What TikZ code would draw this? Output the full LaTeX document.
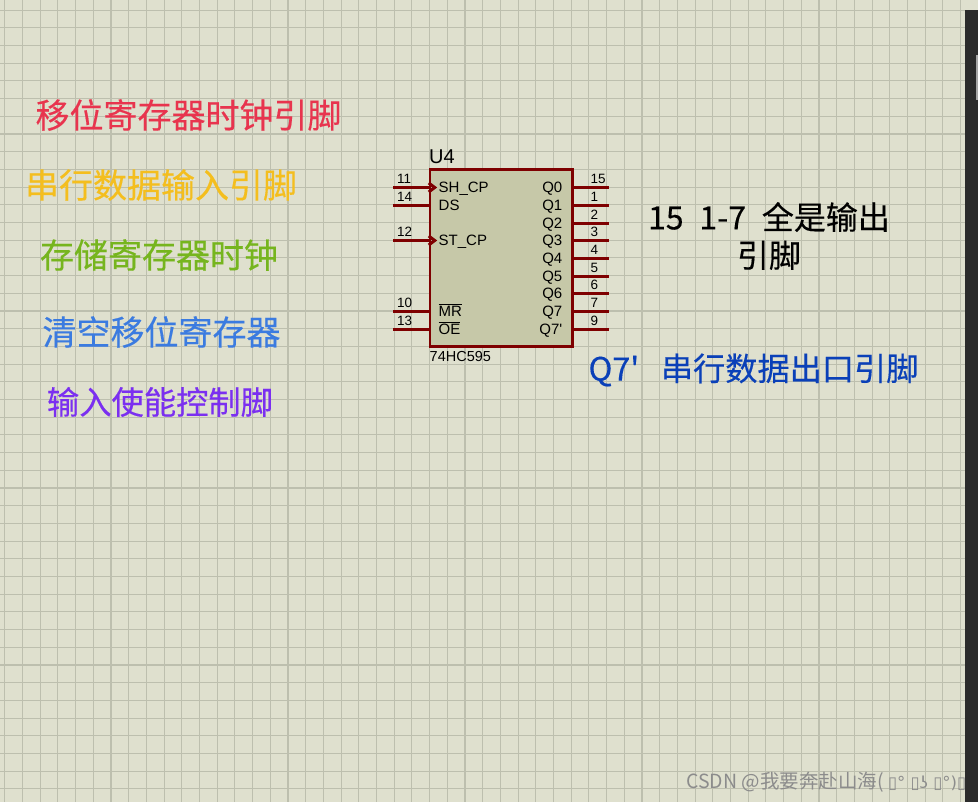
\documentclass[tikz,border=0pt]{standalone}
\usepackage{fontspec}
\setmainfont{Liberation Sans}
\newfontfamily\cjk[FakeBold=0.35]{Noto Sans CJK SC}
\newfontfamily\cjklight{Noto Sans CJK SC}
\newfontfamily\symb{DejaVu Sans}
\definecolor{sheet}{HTML}{DFE0CE}
\definecolor{gridline}{HTML}{BDBFAE}
\definecolor{chipfill}{HTML}{C6C8A8}
\definecolor{chipline}{HTML}{7E0000}
\definecolor{panel}{HTML}{2B2B2B}
\definecolor{shcolor}{HTML}{E8344E}
\definecolor{dscolor}{HTML}{F4BE1E}
\definecolor{stcolor}{HTML}{76B51E}
\definecolor{mrcolor}{HTML}{3B7BE0}
\definecolor{oecolor}{HTML}{7B2FF0}
\definecolor{qscolor}{HTML}{0A40B8}
\newcommand{\barname}[1]{\vbox{\hrule height 1.1pt \kern1.3pt \hbox{#1}}}
\tikzset{
  minorline/.style={draw=gridline,line width=1pt},
  majorline/.style={draw=gridline,line width=1.6pt},
  chip/.style={draw=chipline,fill=chipfill,line width=2.7pt,minimum width=142.3,minimum height=177.4,inner sep=0pt},
  pinline/.style={draw=chipline,line width=3pt},
  pinnum/.style={font=\fontsize{13.5}{13.5}\selectfont,text=black,inner sep=0pt},
  pinname/.style={font=\fontsize{15}{15}\selectfont,text=black,inner sep=0pt},
  note/.style={font=\cjk\fontsize{34}{38}\selectfont,inner sep=0pt,align=center},
  blacknote/.style={font=\cjk\fontsize{32}{38}\selectfont,inner sep=0pt,align=center},
}
\begin{document}
\begin{tikzpicture}[x=1pt,y=-1pt]
\useasboundingbox (0,0) rectangle (978,802);
\fill[sheet] (0,0) rectangle (978,802);
% grid
\foreach \i in {0,...,55}
  \draw[minorline] (4.8+17.7*\i,0) -- (4.8+17.7*\i,802);
\foreach \i in {0,...,45}
  \draw[minorline] (0,10.1+17.7*\i) -- (978,10.1+17.7*\i);
\foreach \x in {111,288,465,642,819}
  \draw[majorline] (\x,0) -- (\x,802);
\foreach \y in {134,311,488,665}
  \draw[majorline] (0,\y) -- (978,\y);
% window edge
\fill[panel] (965,10) rectangle (978,802);
\fill[gray!70] (976,55) rectangle (978,100);
% pins
\node[chip] (ic) at (501.2,258) {};
\foreach \num/\y in {11/187.5,14/205.5,12/240.5,10/311.5,13/329.5}{
  \coordinate (left\num) at (393,\y);
  \draw[pinline] (left\num) -- (ic.west |- left\num);
  \node[pinnum,anchor=base west] (numleft\num) at (397,\y-3.6) {\num};
}
\foreach \num/\y in {15/187.5,1/205.5,2/223.5,3/240.5,4/258.5,5/276.5,6/293.5,7/311.5,9/329.5}{
  \coordinate (right\num) at (609,\y);
  \draw[pinline] (ic.east |- right\num) -- (right\num);
  \node[pinnum,anchor=base west] (numright\num) at (590.5,\y-3.6) {\num};
}
% clock marks
\draw[pinline] (ic.west |- left11) ++(0,-4.5) -- ++(6,4.5) -- ++(-6,4.5);
\draw[pinline] (ic.west |- left12) ++(0,-4.5) -- ++(6,4.5) -- ++(-6,4.5);
% pin names
\foreach \name/\txt/\y in {sh/SH\_CP/187.3,ds/DS/205,st/ST\_CP/240.4,mr/{\barname{MR}}/311.2,oe/{\barname{OE}}/329}
  \node[pinname,anchor=base west] (\name) at (438.5,\y+5.4) {\txt};
\foreach \name/\txt/\y in {q0/Q0/187.3,q1/Q1/205,q2/Q2/223,q3/Q3/240.4,q4/Q4/258,q5/Q5/276,q6/Q6/293,q7/Q7/311.2,qs/Q7\textquotesingle/329}
  \node[pinname,anchor=base east] (\name) at (562.5,\y+5.4) {\txt};
\node[font=\fontsize{20}{20}\selectfont,inner sep=0pt,anchor=base west] (refname) at (429,163.5) {U4};
\node[font=\fontsize{14.5}{14.5}\selectfont,inner sep=0pt,anchor=base west] (partname) at (429.5,361.5) {74HC595};
% notes
\node[note,text=shcolor] (shnote) at (188.5,115) {移位寄存器时钟引脚};
\node[note,text=dscolor] (dsnote) at (161,185) {串行数据输入引脚};
\node[note,text=stcolor] (stnote) at (159,255) {存储寄存器时钟};
\node[note,text=mrcolor] (mrnote) at (161.5,332) {清空移位寄存器};
\node[note,text=oecolor,font=\cjk\fontsize{32.3}{38}\selectfont] (oenote) at (160,402) {输入使能控制脚};
\node[blacknote] (outnote) at (769,236) {15\ \ \hspace{1.5pt}1-7\ \ \hspace{1.5pt}全是输出\\引脚};
\node[blacknote,text=qscolor,font=\cjk\fontsize{32.2}{38}\selectfont] (qsnote) at (753.5,370) {Q7'\ \ \ 串行数据出口引脚};
% watermark
\node[inner sep=0pt,anchor=west,text=black!45,font=\cjklight\fontsize{19.5}{20}\selectfont] (mark) at (686,782) {CSDN @我要奔赴山海( {\symb\fontsize{16.5}{20}\selectfont ▯°\ ▯ʖ\ ▯°)▯}};
\end{tikzpicture}
\end{document}
